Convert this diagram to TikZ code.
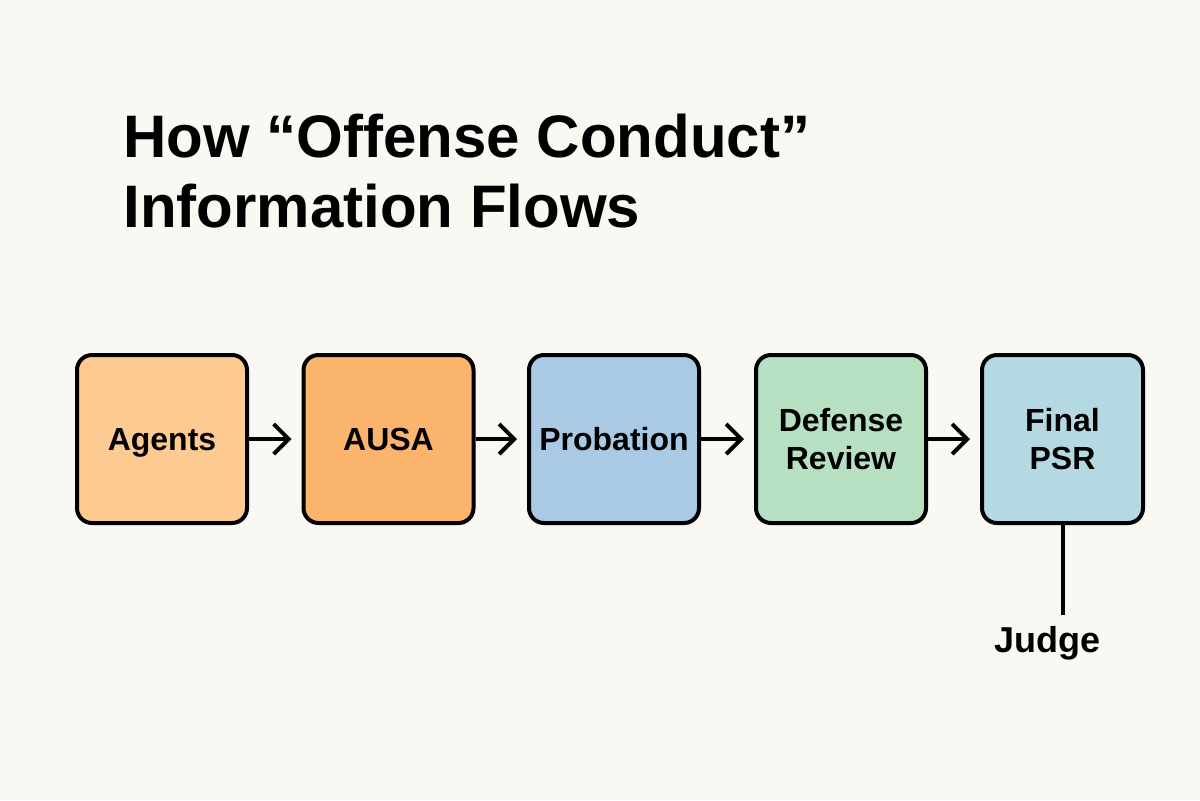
\documentclass[tikz,border=0pt]{standalone}
\usepackage{fontspec}
\setmainfont{Liberation Sans}
\usetikzlibrary{arrows.meta,positioning}
\definecolor{bg}{HTML}{FAF8F3}
\definecolor{cAgents}{HTML}{FDCB92}
\definecolor{cAusa}{HTML}{FBB46C}
\definecolor{cProb}{HTML}{A9C9E5}
\definecolor{cDef}{HTML}{B6E0C1}
\definecolor{cFinal}{HTML}{B5D9E2}
\tikzset{
  stage/.style={draw=black, line width=2pt, rounded corners=7.5pt, minimum width=85pt, minimum height=84pt, inner sep=2pt, align=center, font=\bfseries\fontsize{16}{19}\selectfont},
  oneline/.style={text height=11.5pt, text depth=0pt},
  flow/.style={-{Straight Barb[length=7.5pt,width=15pt,line width=2pt]}, line width=2pt, shorten >=5pt},
  plain/.style={line width=2pt},
}
\begin{document}
\begin{tikzpicture}[x=0.5pt,y=-0.5pt]
\fill[bg] (0,0) rectangle (1200,800);
\useasboundingbox (0,0) rectangle (1200,800);
\node[anchor=base west, inner sep=0pt, font=\bfseries\fontsize{30}{35}\selectfont] (t1) at (123,157) {How “Offense Conduct”};
\node[anchor=base west, inner sep=0pt, font=\bfseries\fontsize{30}{35}\selectfont] (t2) at (123,227) {Information Flows};
\node[stage, oneline, fill=cAgents] (agents) at (162,439) {Agents};
\node[stage, oneline, fill=cAusa] (ausa) at (388.5,439) {AUSA};
\node[stage, oneline, fill=cProb] (prob) at (614,439) {Probation};
\node[stage, fill=cDef] (def) at (841,439) {Defense\\Review};
\node[stage, fill=cFinal, minimum width=80.5pt] (final) at (1062.5,439) {Final\\PSR};
\node[anchor=base, inner sep=0pt, font=\bfseries\fontsize{18}{22}\selectfont] (judge) at (1047,652) {Judge};
\coordinate (jt) at (1062.5,615);
\draw[flow] (agents.east) -- (ausa.west);
\draw[flow] (ausa.east) -- (prob.west);
\draw[flow] (prob.east) -- (def.west);
\draw[flow] (def.east) -- (final.west);
\draw[plain] (final.south) -- (jt);
\end{tikzpicture}
\end{document}
